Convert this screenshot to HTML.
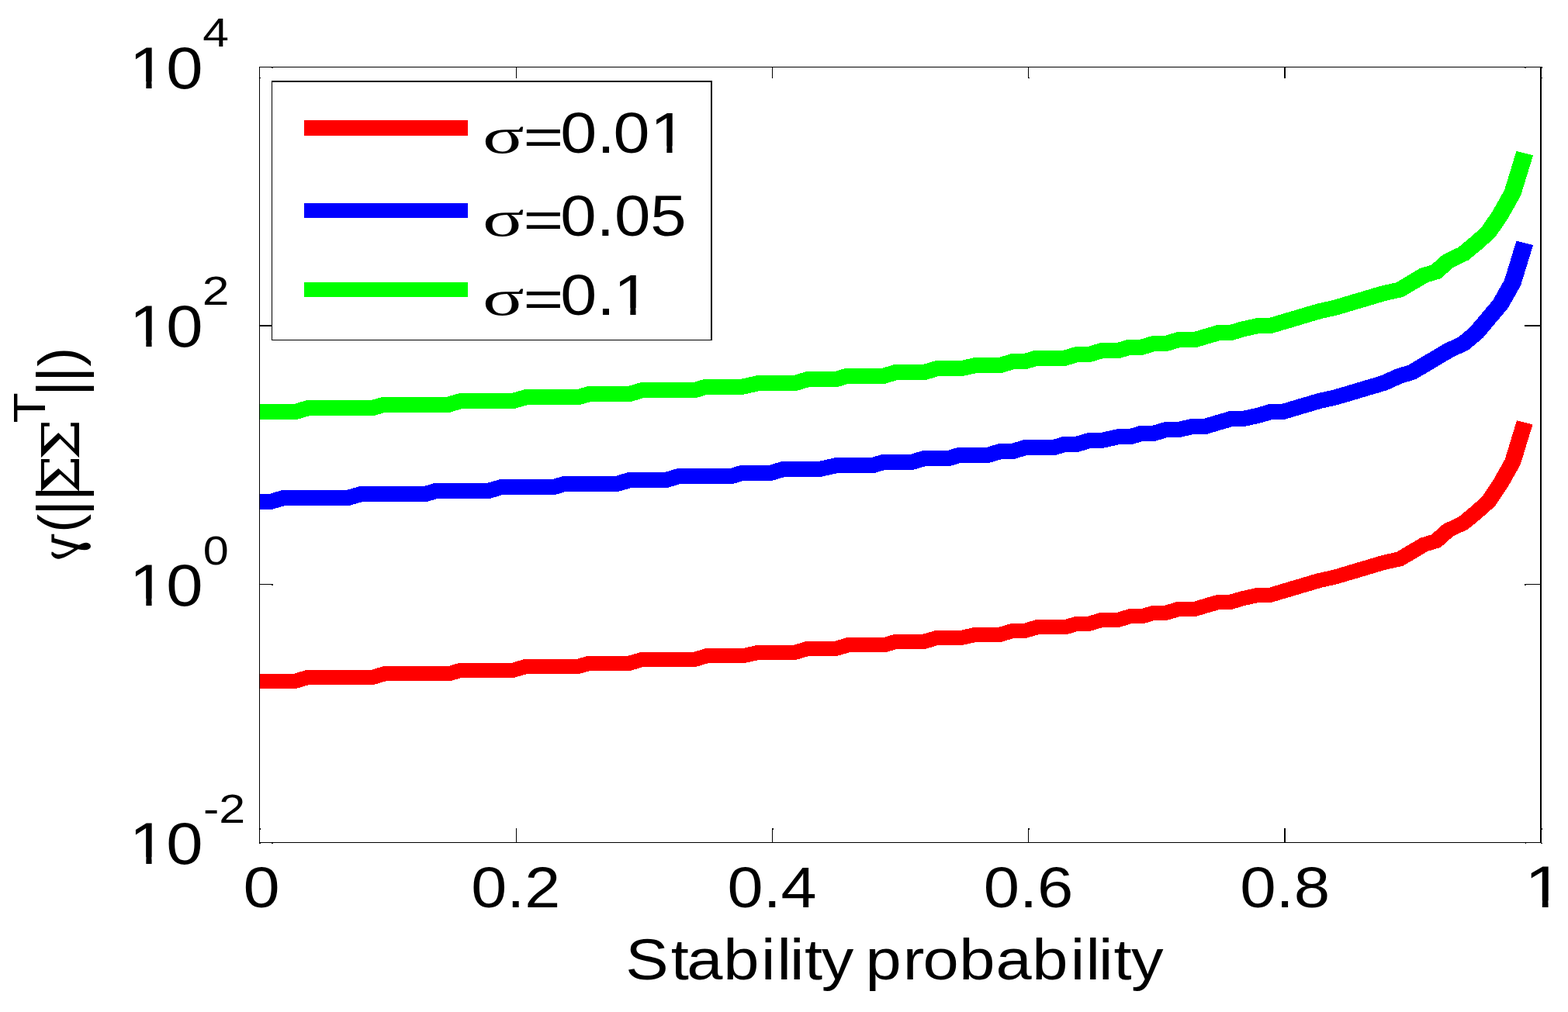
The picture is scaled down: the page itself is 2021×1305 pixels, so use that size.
<!DOCTYPE html>
<html lang="en"><head><meta charset="utf-8"><title>Stability probability</title>
<style>
html,body{margin:0;padding:0;background:#fff;}
body{width:2021px;height:1305px;overflow:hidden;}
svg{display:block;}
text{fill:#000;}
</style></head><body>
<svg width="2021" height="1305" viewBox="0 0 2021 1305">
<rect x="0" y="0" width="2021" height="1305" fill="#fff"/>
<defs>
<clipPath id="one"><rect x="0" y="-80" width="34.2" height="68"/><rect x="25.3" y="-80" width="8.5" height="81"/></clipPath>
<clipPath id="c0"><rect x="-100" y="-100" width="3000" height="88"/><rect x="221.56" y="-12" width="8.5" height="42"/><rect x="-100.00" y="-12" width="301.26" height="42"/><rect x="248.26" y="-12" width="2751.74" height="42"/></clipPath><clipPath id="c1"><rect x="-100" y="-100" width="3000" height="88"/><rect x="221.56" y="-12" width="8.5" height="42"/><rect x="-100.00" y="-12" width="301.26" height="42"/><rect x="248.26" y="-12" width="2751.74" height="42"/></clipPath><clipPath id="c2"><rect x="-100" y="-100" width="3000" height="88"/><rect x="221.56" y="-12" width="8.5" height="42"/><rect x="-100.00" y="-12" width="301.26" height="42"/><rect x="248.26" y="-12" width="2751.74" height="42"/></clipPath><clipPath id="c3"><rect x="-100" y="-100" width="3000" height="88"/><rect x="221.56" y="-12" width="8.5" height="42"/><rect x="-100.00" y="-12" width="301.26" height="42"/><rect x="248.26" y="-12" width="2751.74" height="42"/></clipPath><clipPath id="c4"><rect x="-100" y="-100" width="3000" height="88"/><rect x="1016.98" y="-12" width="8.5" height="42"/><rect x="-100.00" y="-12" width="1096.68" height="42"/><rect x="1043.68" y="-12" width="1956.32" height="42"/></clipPath><clipPath id="c5"><rect x="-100" y="-100" width="3000" height="88"/><rect x="961.36" y="-12" width="8.5" height="42"/><rect x="-100.00" y="-12" width="1041.06" height="42"/><rect x="988.06" y="-12" width="2011.94" height="42"/></clipPath></defs>
<g shape-rendering="crispEdges">
<g transform="scale(1.12,1)"><polyline points="298.21,878.23 312.13,878.23 326.04,878.23 339.96,878.23 353.88,873.60 367.79,873.60 386.34,873.60 400.26,873.60 414.17,873.60 428.09,873.60 442.00,868.97 455.92,868.97 474.47,868.97 488.39,868.97 502.30,868.97 516.22,868.97 530.13,864.34 548.69,864.34 562.60,864.34 576.52,864.34 590.43,864.34 604.35,859.71 618.26,859.71 636.82,859.71 650.73,859.71 664.65,859.71 678.56,855.08 692.48,855.08 711.03,855.08 724.95,855.08 738.86,850.45 752.78,850.45 766.69,850.45 780.61,850.45 799.16,850.45 813.08,845.82 826.99,845.82 840.91,845.82 854.82,845.82 873.38,841.19 887.29,841.19 901.21,841.19 915.12,841.19 929.04,836.56 942.95,836.56 961.50,836.56 975.42,831.93 989.33,831.93 1003.25,831.93 1017.17,831.93 1031.08,827.30 1049.63,827.30 1063.55,827.30 1077.46,822.67 1091.38,822.67 1105.29,822.67 1123.85,818.04 1137.76,818.04 1151.68,818.04 1165.59,813.41 1179.51,813.41 1193.42,808.78 1211.98,808.78 1225.89,808.78 1239.81,804.15 1253.72,804.15 1267.64,799.52 1286.19,799.52 1300.11,794.89 1314.02,794.89 1327.94,790.26 1341.85,790.26 1355.77,785.63 1374.32,785.63 1388.24,781.00 1402.15,776.37 1416.07,776.37 1429.98,771.74 1448.54,767.11 1462.45,767.11 1476.37,762.48 1490.28,757.85 1504.20,753.22 1518.11,748.59 1536.67,743.96 1550.58,739.33 1564.50,734.70 1578.41,730.07 1592.33,725.44 1610.88,720.81 1624.79,711.55 1638.71,702.29 1652.62,697.66 1666.54,683.77 1684.03,674.51 1699.01,660.62 1712.92,646.73 1726.84,623.58 1740.75,595.80 1754.67,544.87" fill="none" stroke="#ff0000" stroke-width="19" stroke-linejoin="miter" stroke-linecap="butt"/></g>
<g transform="scale(1.12,1)"><polyline points="298.21,646.73 312.13,646.73 326.04,642.10 339.96,642.10 353.88,642.10 367.79,642.10 386.34,642.10 400.26,642.10 414.17,637.47 428.09,637.47 442.00,637.47 455.92,637.47 474.47,637.47 488.39,637.47 502.30,632.84 516.22,632.84 530.13,632.84 548.69,632.84 562.60,632.84 576.52,628.21 590.43,628.21 604.35,628.21 618.26,628.21 636.82,628.21 650.73,623.58 664.65,623.58 678.56,623.58 692.48,623.58 711.03,623.58 724.95,618.95 738.86,618.95 752.78,618.95 766.69,618.95 780.61,614.32 799.16,614.32 813.08,614.32 826.99,614.32 840.91,614.32 854.82,609.69 873.38,609.69 887.29,609.69 901.21,605.06 915.12,605.06 929.04,605.06 942.95,605.06 961.50,600.43 975.42,600.43 989.33,600.43 1003.25,600.43 1017.17,595.80 1031.08,595.80 1049.63,595.80 1063.55,591.17 1077.46,591.17 1091.38,591.17 1105.29,586.54 1123.85,586.54 1137.76,586.54 1151.68,581.91 1165.59,581.91 1179.51,577.28 1193.42,577.28 1211.98,577.28 1225.89,572.65 1239.81,572.65 1253.72,568.02 1267.64,568.02 1286.19,563.39 1300.11,563.39 1314.02,558.76 1327.94,558.76 1341.85,554.13 1355.77,554.13 1374.32,549.50 1388.24,549.50 1402.15,544.87 1416.07,540.24 1429.98,540.24 1448.54,535.61 1462.45,530.98 1476.37,530.98 1490.28,526.35 1504.20,521.72 1518.11,517.09 1536.67,512.46 1550.58,507.83 1564.50,503.20 1578.41,498.57 1592.33,493.94 1610.88,484.68 1624.79,480.05 1638.71,470.79 1652.62,461.53 1666.54,452.27 1684.03,443.01 1699.01,429.12 1712.92,410.60 1726.84,392.08 1740.75,364.30 1754.67,313.37" fill="none" stroke="#0000ff" stroke-width="20.0" stroke-linejoin="miter" stroke-linecap="butt"/></g>
<g transform="scale(1.12,1)"><polyline points="298.21,530.98 312.13,530.98 326.04,530.98 339.96,530.98 353.88,526.35 367.79,526.35 386.34,526.35 400.26,526.35 414.17,526.35 428.09,526.35 442.00,521.72 455.92,521.72 474.47,521.72 488.39,521.72 502.30,521.72 516.22,521.72 530.13,517.09 548.69,517.09 562.60,517.09 576.52,517.09 590.43,517.09 604.35,512.46 618.26,512.46 636.82,512.46 650.73,512.46 664.65,512.46 678.56,507.83 692.48,507.83 711.03,507.83 724.95,507.83 738.86,503.20 752.78,503.20 766.69,503.20 780.61,503.20 799.16,503.20 813.08,498.57 826.99,498.57 840.91,498.57 854.82,498.57 873.38,493.94 887.29,493.94 901.21,493.94 915.12,493.94 929.04,489.31 942.95,489.31 961.50,489.31 975.42,484.68 989.33,484.68 1003.25,484.68 1017.17,484.68 1031.08,480.05 1049.63,480.05 1063.55,480.05 1077.46,475.42 1091.38,475.42 1105.29,475.42 1123.85,470.79 1137.76,470.79 1151.68,470.79 1165.59,466.16 1179.51,466.16 1193.42,461.53 1211.98,461.53 1225.89,461.53 1239.81,456.90 1253.72,456.90 1267.64,452.27 1286.19,452.27 1300.11,447.64 1314.02,447.64 1327.94,443.01 1341.85,443.01 1355.77,438.38 1374.32,438.38 1388.24,433.75 1402.15,429.12 1416.07,429.12 1429.98,424.49 1448.54,419.86 1462.45,419.86 1476.37,415.23 1490.28,410.60 1504.20,405.97 1518.11,401.34 1536.67,396.71 1550.58,392.08 1564.50,387.45 1578.41,382.82 1592.33,378.19 1610.88,373.56 1624.79,364.30 1638.71,355.04 1652.62,350.41 1666.54,336.52 1684.03,327.26 1699.01,313.37 1712.92,299.48 1726.84,276.33 1740.75,248.55 1754.67,197.62" fill="none" stroke="#00ff00" stroke-width="20.0" stroke-linejoin="miter" stroke-linecap="butt"/></g>
<rect x="334" y="86" width="1" height="1001" fill="#000"/>
<rect x="334" y="86" width="1653" height="1" fill="#000"/>
<rect x="1985" y="86" width="2" height="1001" fill="#000"/>
<rect x="334" y="1086" width="1653" height="1" fill="#000"/>
<rect x="665" y="86" width="1" height="15" fill="#000"/>
<rect x="665" y="1068" width="1" height="19" fill="#000"/>
<rect x="995" y="86" width="1" height="15" fill="#000"/>
<rect x="995" y="1068" width="1" height="19" fill="#000"/>
<rect x="1325" y="86" width="1" height="15" fill="#000"/>
<rect x="1325" y="1068" width="1" height="19" fill="#000"/>
<rect x="1655" y="86" width="2" height="15" fill="#000"/>
<rect x="1655" y="1068" width="2" height="19" fill="#000"/>
<rect x="334" y="419" width="17" height="2" fill="#000"/>
<rect x="1965" y="419" width="21" height="2" fill="#000"/>
<rect x="334" y="753" width="18" height="1" fill="#000"/>
<rect x="1965" y="753" width="21" height="1" fill="#000"/>
<rect x="350" y="87" width="2" height="1" fill="#000"/>
<rect x="335" y="100" width="1" height="1" fill="#000"/>
<rect x="1965" y="87" width="2" height="1" fill="#000"/>
<rect x="1987" y="100" width="1" height="1" fill="#000"/>
<rect x="1985" y="86" width="3" height="2" fill="#000"/>
<rect x="335" y="1068" width="1" height="2" fill="#000"/>
<rect x="334" y="1087" width="2" height="1" fill="#000"/>
<rect x="350" y="1087" width="2" height="1" fill="#000"/>
<rect x="1966" y="1087" width="1" height="1" fill="#000"/>
<rect x="1987" y="1068" width="1" height="2" fill="#000"/>
<rect x="1986" y="1087" width="2" height="1" fill="#000"/>
<rect x="995" y="1068" width="2" height="2" fill="#000"/>
<rect x="1325" y="1068" width="2" height="2" fill="#000"/>
<rect x="1326" y="100" width="1" height="1" fill="#000"/>
<rect x="350" y="753" width="2" height="2" fill="#000"/>
<rect x="1965" y="753" width="2" height="2" fill="#000"/>
<rect x="350" y="104" width="568" height="335" fill="#fff"/>
<rect x="350" y="104" width="568" height="2" fill="#000"/>
<rect x="350" y="438" width="568" height="1" fill="#000"/>
<rect x="350" y="104" width="1" height="335" fill="#000"/>
<rect x="916" y="104" width="2" height="335" fill="#000"/>
<rect x="392" y="155" width="211" height="20" fill="#ff0000"/>
<rect x="392" y="262" width="211" height="19" fill="#0000ff"/>
<rect x="392" y="364" width="211" height="19" fill="#00ff00"/>
</g>
<g>
<text transform="matrix(0.8500,0,0,0.7520,0,114.10)" x="196.26 252.12" y="0" font-family="'Liberation Sans', sans-serif" font-size="100" clip-path="url(#c0)">10</text>
<text transform="matrix(0.6060,0,0,0.5188,261.29,59.80)" font-family="'Liberation Sans', sans-serif" font-size="100">4</text>
</g>
<g>
<text transform="matrix(0.8500,0,0,0.7520,0,447.43)" x="196.26 252.12" y="0" font-family="'Liberation Sans', sans-serif" font-size="100" clip-path="url(#c1)">10</text>
<text transform="matrix(0.6242,0,0,0.5129,260.68,393.00)" font-family="'Liberation Sans', sans-serif" font-size="100">2</text>
</g>
<g>
<text transform="matrix(0.8500,0,0,0.7520,0,780.76)" x="196.26 252.12" y="0" font-family="'Liberation Sans', sans-serif" font-size="100" clip-path="url(#c2)">10</text>
<text transform="matrix(0.5937,0,0,0.5225,261.63,727.68)" font-family="'Liberation Sans', sans-serif" font-size="100">0</text>
</g>
<g>
<text transform="matrix(0.8500,0,0,0.7520,0,1114.09)" x="196.26 252.12" y="0" font-family="'Liberation Sans', sans-serif" font-size="100" clip-path="url(#c3)">10</text>
<text transform="matrix(0.6101,0,0,0.5157,262.05,1061.00)" font-family="'Liberation Sans', sans-serif" font-size="100">-2</text>
</g>
<text transform="matrix(0.8484,0,0,0.7479,313.51,1170.35)" font-family="'Liberation Sans', sans-serif" font-size="100">0</text>
<text transform="matrix(0.8277,0,0,0.7479,607.29,1170.35)" font-family="'Liberation Sans', sans-serif" font-size="100">0.2</text>
<text transform="matrix(0.8280,0,0,0.7479,937.59,1170.35)" font-family="'Liberation Sans', sans-serif" font-size="100">0.4</text>
<text transform="matrix(0.8322,0,0,0.7479,1267.67,1170.35)" font-family="'Liberation Sans', sans-serif" font-size="100">0.6</text>
<text transform="matrix(0.8352,0,0,0.7479,1598.16,1170.35)" font-family="'Liberation Sans', sans-serif" font-size="100">0.8</text>
<text transform="matrix(0.9061,0,0,0.7536,1964.89,1170.20)" font-family="'Liberation Sans', sans-serif" font-size="100" clip-path="url(#one)">1</text>
<text transform="matrix(0.8310,0,0,0.7500,0,1263.10)" x="970.35 1040.74 1065.18 1121.90 1180.50 1205.29 1225.03 1247.96 1273.99 1273.99 1342.36 1400.36 1431.38 1487.72 1544.48 1600.84 1660.41 1684.23 1703.97 1727.38 1754.49" y="0" font-family="'Liberation Sans', sans-serif" font-size="100" xml:space="preserve">Stability probability</text>
<g>
<text transform="matrix(0.9959,0,0,0.6635,621.92,197.24)" font-family="'Liberation Serif', serif" font-size="100">σ</text>
<text transform="matrix(0.8866,0,0,0.6437,674.57,199.34)" font-family="'Liberation Sans', sans-serif" font-size="100">=</text>
<text transform="matrix(0.8450,0,0,0.7479,0,197.15)" x="854.82 910.29 935.41 991.68" y="0" font-family="'Liberation Sans', sans-serif" font-size="100" clip-path="url(#c4)">0.01</text>
</g>
<g>
<text transform="matrix(0.9959,0,0,0.6635,621.92,303.84)" font-family="'Liberation Serif', serif" font-size="100">σ</text>
<text transform="matrix(0.8866,0,0,0.6438,674.57,305.94)" font-family="'Liberation Sans', sans-serif" font-size="100">=</text>
<text transform="matrix(0.8343,0,0,0.7479,722.36,303.75)" font-family="'Liberation Sans', sans-serif" font-size="100">0.05</text>
</g>
<g>
<text transform="matrix(0.9959,0,0,0.6635,621.92,405.94)" font-family="'Liberation Serif', serif" font-size="100">σ</text>
<text transform="matrix(0.8866,0,0,0.6438,674.57,408.04)" font-family="'Liberation Sans', sans-serif" font-size="100">=</text>
<text transform="matrix(0.8450,0,0,0.7479,0,405.85)" x="854.82 910.29 936.06" y="0" font-family="'Liberation Sans', sans-serif" font-size="100" clip-path="url(#c5)">0.1</text>
</g>
<g>
<text transform="matrix(0,0.6252,0.6836,0,103.35,686.41)" font-family="'DejaVu Serif', serif" font-size="100">γ</text>
<text transform="matrix(0,-0.7208,0.7444,0,101.57,686.72)" font-family="'Liberation Sans', sans-serif" font-size="100">(</text>
<text transform="matrix(0,-0.7750,0.7989,0,103.92,664.98)" font-family="'Liberation Sans', sans-serif" font-size="100">|</text>
<text transform="matrix(0,-0.7750,0.7989,0,103.92,646.18)" font-family="'Liberation Sans', sans-serif" font-size="100">|</text>
<text transform="matrix(0,-0.6958,0.6699,0,101.80,636.53)" font-family="'DejaVu Serif', serif" font-size="100">Σ</text>
<text transform="matrix(0,-0.7513,0.6712,0,102.00,593.18)" font-family="'DejaVu Serif', serif" font-size="100">Σ</text>
<text transform="matrix(0,-0.6407,0.5783,0,58.00,545.60)" font-family="'Liberation Sans', sans-serif" font-size="100">T</text>
<text transform="matrix(0,-0.7625,0.7989,0,103.92,510.86)" font-family="'Liberation Sans', sans-serif" font-size="100">|</text>
<text transform="matrix(0,-0.7750,0.7989,0,103.92,492.97)" font-family="'Liberation Sans', sans-serif" font-size="100">|</text>
<text transform="matrix(0,-0.7500,0.7412,0,101.54,472.85)" font-family="'Liberation Sans', sans-serif" font-size="100">)</text>
</g>
</svg>
</body></html>
